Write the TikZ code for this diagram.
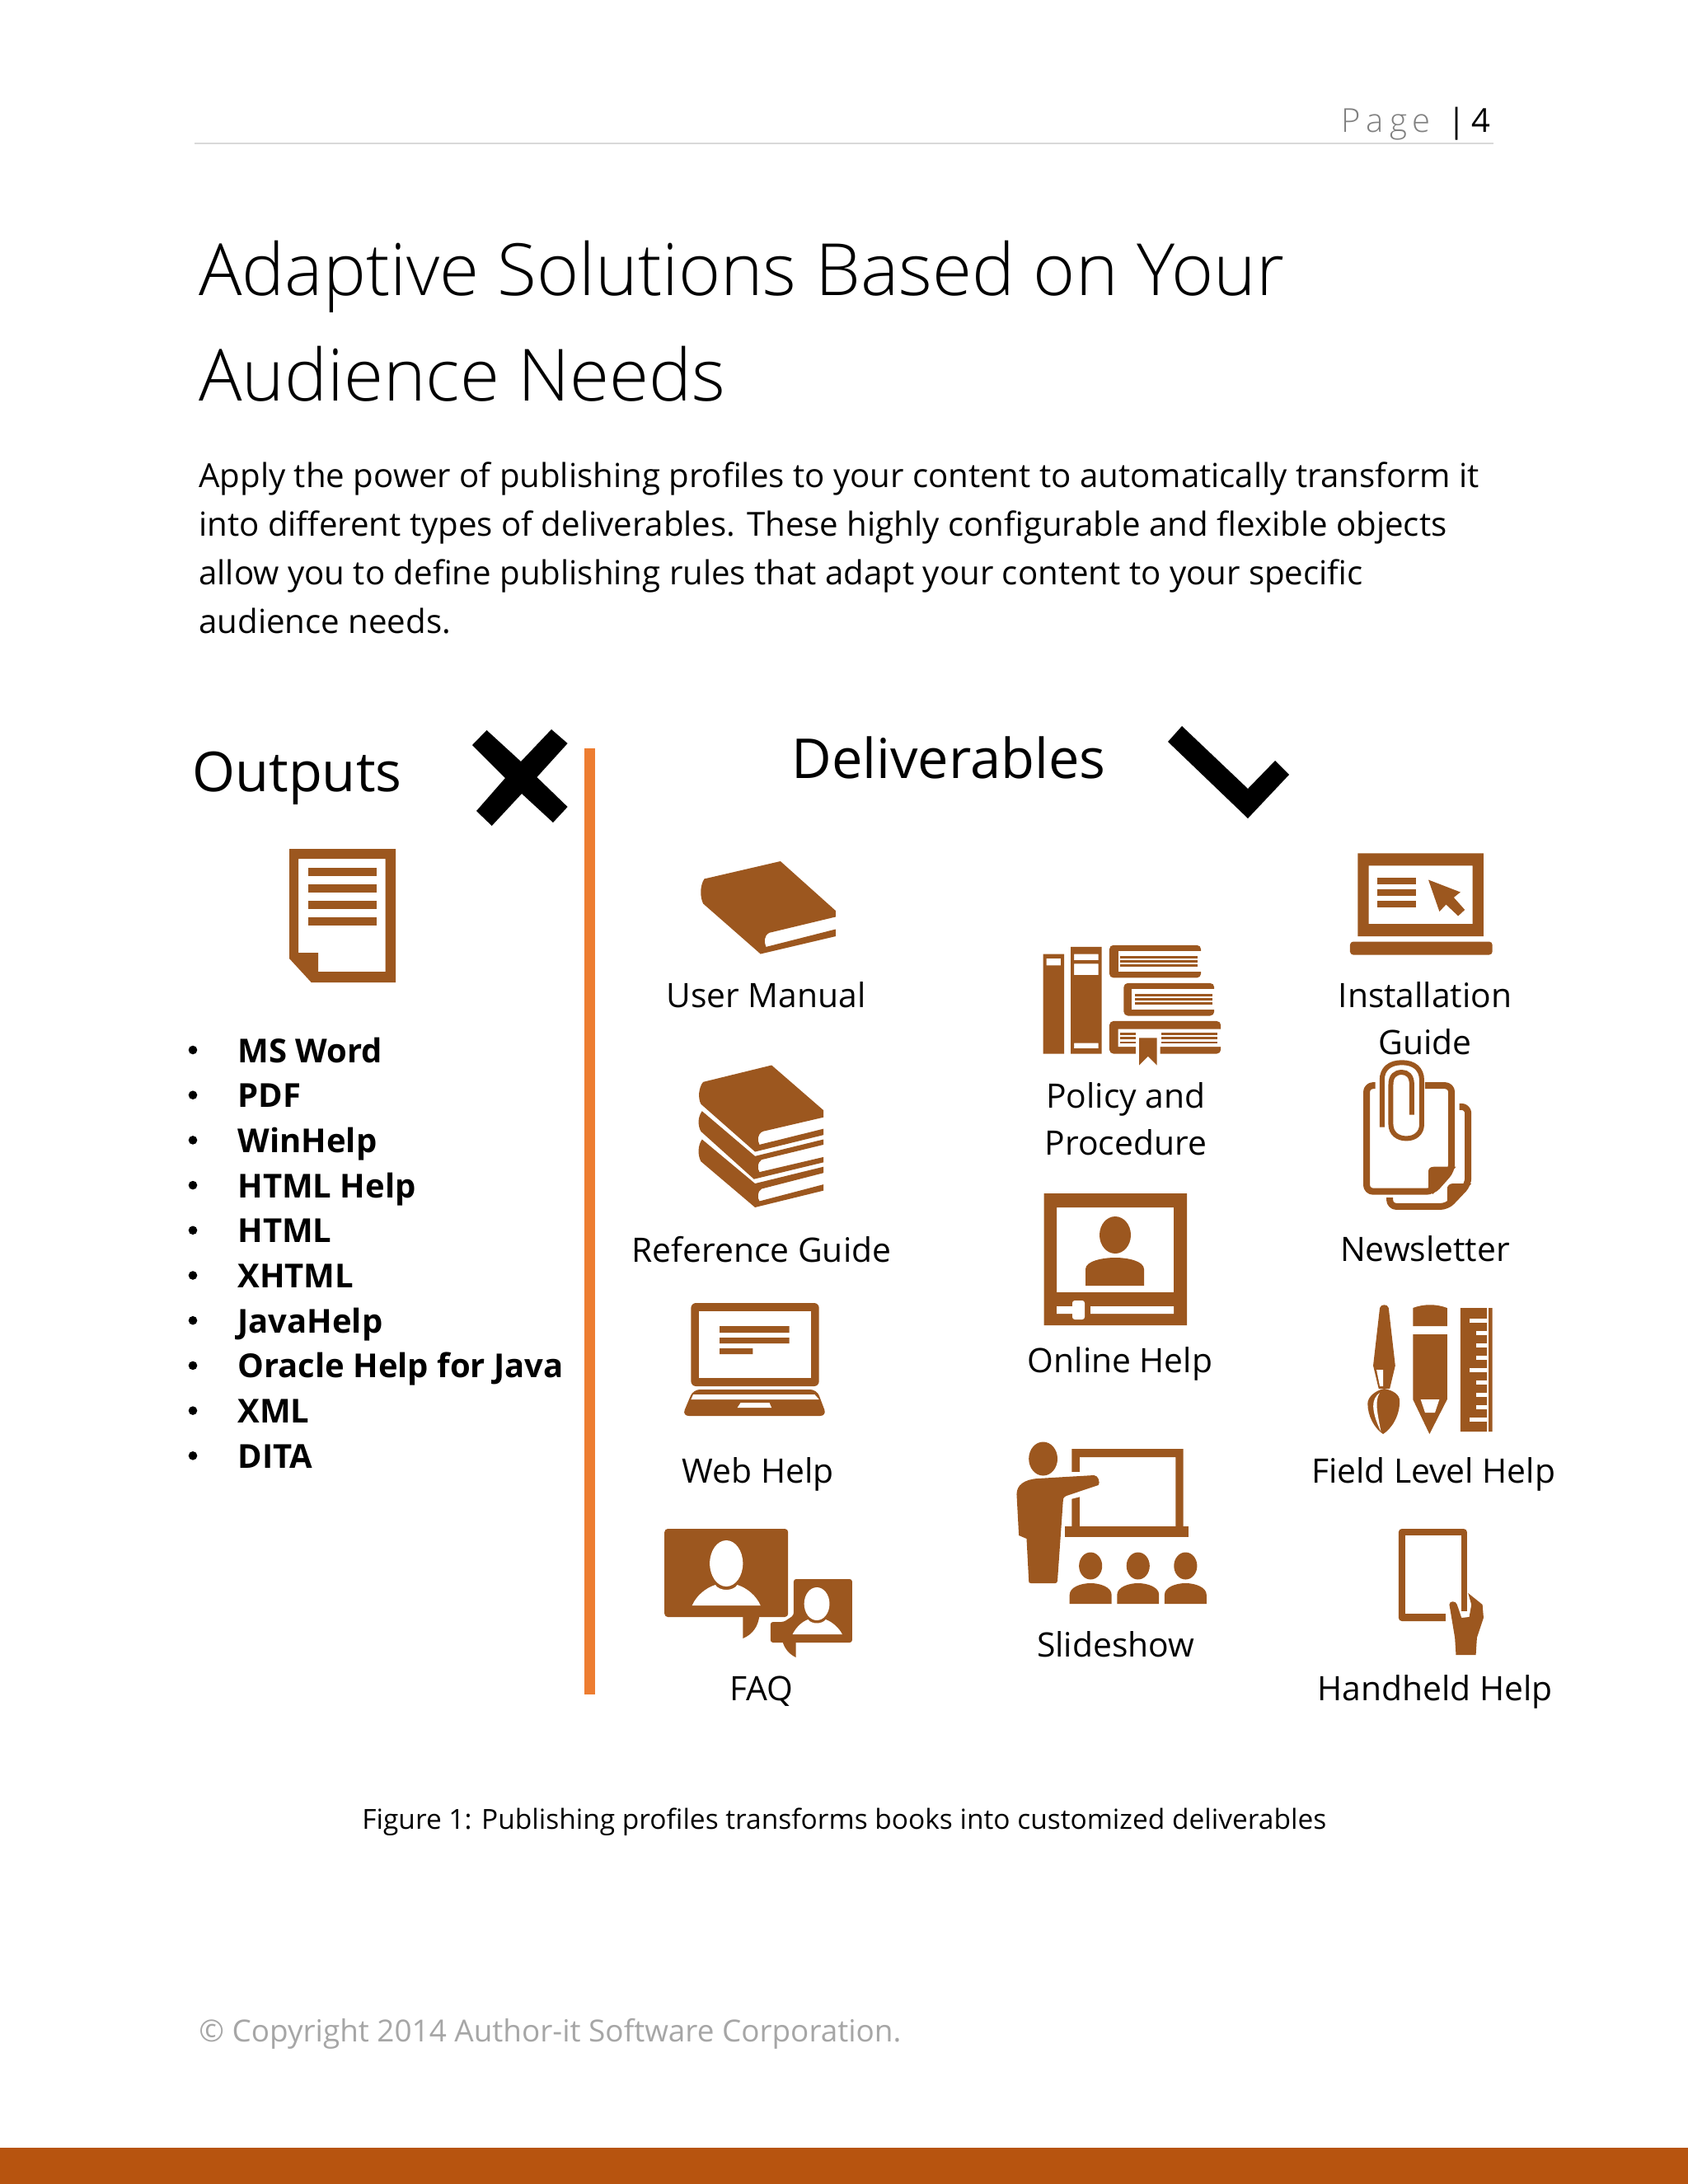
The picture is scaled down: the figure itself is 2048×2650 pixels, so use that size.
\documentclass[tikz,border=0pt]{standalone}
\usepackage{fontspec}
\setmainfont{Open Sans}
\newfontfamily\lightfont{Open Sans Light}
\definecolor{iconbrown}{HTML}{9C571F}
\definecolor{barorange}{HTML}{ED7D31}
\definecolor{footbar}{HTML}{B7540F}
\tikzset{
  icon/.style={fill=iconbrown,even odd rule},
  hole/.style={fill=white},
  iconline/.style={draw=iconbrown,line width=4pt,line join=round},
  lbl/.style={anchor=base,inner sep=0pt,font=\fontsize{20.4}{25}\selectfont},
  bodyline/.style={anchor=base west,inner sep=0pt,font=\fontsize{20.1}{25}\selectfont},
  titleline/.style={anchor=base west,inner sep=0pt,font=\lightfont\fontsize{43.7}{52}\selectfont},
  listitem/.style={anchor=base west,inner sep=0pt,font=\bfseries\fontsize{20}{25}\selectfont},
  topleft/.style={shift={(-254.5,-71.4)},xscale=1.3393,yscale=1.0714},
  topright/.style={shift={(-407.2,-71.4)},xscale=1.3393,yscale=1.0714},
  lowleft/.style={shift={(-254.5,0)},xscale=1.3393},
  lowright/.style={shift={(-407.2,0)},xscale=1.3393}
}
\begin{document}
\begin{tikzpicture}[x=0.5pt,y=0.5pt,yscale=-1,xscale=1]
	\useasboundingbox (0,0) rectangle (2048,2650);

	%Header
	\draw [line width=1pt,color=black!15] (236,174) -- (1812,174) ;
	% Text Node
	\node [anchor=base west,inner sep=0pt,text=black!50,font=\lightfont\fontsize{20}{24}\selectfont] (pageword) at (1627,160) {P\hspace{3.5pt}a\hspace{3.5pt}g\hspace{3.5pt}e};
	\node [anchor=base,inner sep=0pt,font=\fontsize{20}{24}\selectfont] (pagebar) at (1767,160) {|};
	\node [anchor=base west,inner sep=0pt,font=\fontsize{20}{24}\selectfont] (pagenum) at (1785,160) {4};

	% Title and text
	\node [titleline] (title1) at (241,358) {Adaptive Solutions Based on Your};
	\node [titleline] (title2) at (241,486) {Audience Needs};
	\node [bodyline] (body1) at (241,591) {Apply the power of publishing profiles to your content to automatically transform it};
	\node [bodyline] (body2) at (241,650) {into different types of deliverables. These highly configurable and flexible objects};
	\node [bodyline] (body3) at (241,709) {allow you to define publishing rules that adapt your content to your specific};
	\node [bodyline] (body4) at (241,768) {audience needs.};

	% Headings
	\node [anchor=base west,inner sep=0pt,font=\fontsize{33.4}{40}\selectfont] (outputs) at (233,960) {Outputs};
	\node [anchor=base west,inner sep=0pt,font=\fontsize{33.4}{40}\selectfont] (deliverables) at (960,944) {Deliverables};

	%Shape: cross
	\fill (590.5,886) -- (632,924) -- (669,885) -- (688.6,902) -- (651.4,943) -- (688.6,979) -- (671,998) -- (633,963) -- (596.7,1002) -- (578,984) -- (613,944) -- (573,904) -- cycle ;
	%Shape: check
	\fill (1434,881) -- (1514,957) -- (1547,923) -- (1564,940) -- (1514,993) -- (1417,900) -- cycle ;
	%Shape: divider
	\fill [barorange] (709,908) rectangle (721.7,2056) ;

	%Shape: document
	\fill [icon] (351,1030) -- (480,1030) -- (480,1192) -- (377.7,1192) -- (351,1163) -- cycle
		(362,1042) -- (467.6,1042) -- (467.6,1179) -- (386,1179) -- (386,1156) -- (362,1156) -- cycle ;
	\foreach \y in {1053,1073,1093,1113}
		\fill [iconbrown] (373.5,\y) rectangle (457,\y+10) ;

	% List
	\foreach \name/\txt [count=\i from 0] in {mw/MS Word,pdf/PDF,wh/WinHelp,hh/HTML Help,htm/HTML,xh/XHTML,jh/JavaHelp,oh/Oracle Help for Java,xm/XML,di/DITA}{
		\node [listitem] (\name) at (288,1289+54.7*\i) {\txt};
		\fill (234,1274+54.7*\i) circle (5.3) ;
	}

	\begin{scope}[topleft]
	%Shape: user manual
	\fill [icon] (897,1042) -- (947,1098) -- (947,1105) -- (887,1123) .. controls (882,1126) and (882,1134) .. (884,1139) -- (947,1119) -- (947,1127) -- (879,1147) -- (827,1090) .. controls (824,1082) and (824,1070) .. (828,1062) -- cycle ;
	%Shape: reference guide
	\fill [icon] (889,1273) -- (936,1324) -- (936,1332) -- (881,1348) .. controls (876,1351) and (876,1358) .. (878,1363) -- (936,1345) -- (936,1352) -- (874,1371) -- (825,1317) .. controls (822,1310) and (823,1298) .. (827,1292) -- cycle ;
	\fill [icon] (826,1325) -- (874,1376) -- (936,1357) -- (936,1363) -- (880,1380) .. controls (876,1383) and (876,1390) .. (878,1394) -- (936,1377) -- (936,1383) -- (873,1402) -- (825,1348) .. controls (822,1341) and (822,1332) .. (826,1325) -- cycle ;
	\fill [icon] (826,1357) -- (874,1407) -- (936,1388) -- (936,1395) -- (880,1413) .. controls (876,1416) and (876,1423) .. (878,1427) -- (936,1408) -- (936,1415) -- (874,1434) -- (825,1382) .. controls (822,1375) and (822,1364) .. (826,1357) -- cycle ;
	\end{scope}
	\node [lbl] (usermanual) at (929.5,1222) {User Manual};
	\node [lbl] (referenceguide) at (924,1531) {Reference Guide};

	\begin{scope}[topright]
	%Shape: policy books
	\fill [icon] (1249,1147) rectangle (1268,1260) (1252,1152) rectangle (1265,1160) ;
	\fill [icon] (1274,1139) rectangle (1302,1260) (1277,1147) rectangle (1299,1154) (1277,1158) rectangle (1299,1171) (1277,1248) rectangle (1299,1254) ;
	\fill [iconbrown,rounded corners=2.5] (1392,1137) -- (1309,1137) -- (1309,1174) -- (1392,1174) -- cycle ;
	\fill [hole] (1317,1144) rectangle (1393,1167) ;
	\foreach \y in {1149,1154,1159}
		\fill [iconbrown] (1319,\y) rectangle (1389,\y+2.7) ;
	\fill [iconbrown,rounded corners=2.5] (1404,1180) -- (1322,1180) -- (1322,1217) -- (1404,1217) -- cycle ;
	\fill [hole] (1329,1187) rectangle (1405,1210) ;
	\foreach \y in {1192,1197,1202}
		\fill [iconbrown] (1332,\y) rectangle (1402,\y+2.7) ;
	\fill [iconbrown,rounded corners=2.5] (1410,1223) -- (1309,1223) -- (1309,1260) -- (1410,1260) -- cycle ;
	\fill [hole] (1317,1232) rectangle (1411,1252) (1333,1232) rectangle (1355,1261) ;
	\foreach \y in {1236,1241,1246} {
		\fill [iconbrown] (1319,\y) rectangle (1333,\y+2.7) ;
		\fill [iconbrown] (1356,\y) rectangle (1407,\y+2.7) ;
	}
	\fill [iconbrown] (1336,1242) -- (1352,1242) -- (1352,1273) -- (1344,1263) -- (1336,1273) -- cycle ;
	%Shape: installation
	\fill [icon] (1534,1033) rectangle (1648,1127) (1544,1047) rectangle (1638,1113) ;
	\foreach \y in {1061,1074,1087}
		\fill [iconbrown] (1552,\y) rectangle (1587,\y+7) ;
	\fill [iconbrown] (1598,1063) -- (1627,1077) -- (1621,1083) -- (1631,1097) -- (1625,1104) -- (1614,1091) -- (1608,1099) -- cycle ;
	\fill [iconbrown,rounded corners=2] (1527,1133) -- (1656,1133) -- (1656,1148) -- (1527,1148) -- cycle ;
	%Shape: newsletter
	\draw [iconline,rounded corners=4] (1550,1296) -- (1542,1296) -- (1542,1416) -- (1602,1416) -- (1619,1392) -- (1619,1296) -- (1595,1296) ;
	\fill [iconbrown] (1598,1413) -- (1598,1393) .. controls (1598,1390) and (1600,1388) .. (1603,1388) -- (1623,1388) -- (1602,1419) -- cycle ;
	\draw [iconline,rounded corners=4] (1626,1320) -- (1634,1320) -- (1634,1408) -- (1615,1433) -- (1563,1433) -- (1563,1423) ;
	\fill [iconbrown] (1615,1434) -- (1615,1413) .. controls (1615,1410) and (1617,1407) .. (1620,1407) -- (1637,1407) -- cycle ;
	\draw [draw=iconbrown,line width=3pt] (1556,1343) -- (1556,1290) .. controls (1556,1277) and (1563,1270) .. (1574,1270) .. controls (1585,1270) and (1592,1277) .. (1592,1290) -- (1592,1340) .. controls (1592,1350) and (1586,1356) .. (1578,1356) .. controls (1570,1356) and (1564,1350) .. (1564,1340) -- (1564,1295) .. controls (1564,1285) and (1568,1281) .. (1574,1281) .. controls (1579,1281) and (1583,1285) .. (1583,1295) -- (1583,1329) ;
	\end{scope}
	\node [lbl] (policy1) at (1366,1344) {Policy and};
	\node [lbl] (policy2) at (1366,1401) {Procedure};
	\node [lbl] (install1) at (1729,1222) {Installation};
	\node [lbl] (install2) at (1729,1279) {Guide};
	\node [lbl] (newsletter) at (1729,1530) {Newsletter};

	%Shape: online help
	\fill [icon] (1266.5,1448) rectangle (1440,1608) (1282,1465) rectangle (1424,1568) ;
	\fill [hole] (1282,1585) rectangle (1301,1594) (1323,1585) rectangle (1424,1594) ;
	\fill [hole,rounded corners=1.5] (1301,1578) rectangle (1316,1601) ;
	\fill [iconbrown] (1353,1498.5) ellipse (19 and 22.5) ;
	\fill [iconbrown] (1317,1560) -- (1317,1540) .. controls (1317,1530) and (1338,1526) .. (1353,1526) .. controls (1368,1526) and (1388,1530) .. (1388,1540) -- (1388,1560) -- cycle ;
	\node [lbl] (onlinehelp) at (1359,1665) {Online Help};

	\begin{scope}[lowleft]
	%Shape: web help
	\fill [iconbrown,rounded corners=3] (816,1581) rectangle (932,1682) ;
	\fill [hole] (823,1591) rectangle (925,1672) ;
	\fill [iconbrown] (842,1609) rectangle (905,1617) (842,1623) rectangle (905,1630) (842,1636) rectangle (872,1643) ;
	\fill [iconbrown,rounded corners=4] (818,1686) -- (930,1686) -- (939,1718) -- (808,1718) -- cycle ;
	\fill [hole] (818,1692) -- (928,1692) -- (932,1698) -- (816,1698) -- cycle (861,1702) -- (887,1702) -- (889,1708) -- (858,1708) -- cycle ;
	%Shape: faq
	\fill [iconbrown,rounded corners=2] (792,1855) rectangle (904,1962) ;
	\fill [iconbrown] (863,1960) -- (863,1988) .. controls (872,1983) and (877,1973) .. (878,1960) -- cycle ;
	\fill [hole] (848,1897) ellipse (15 and 28) ;
	\fill [hole] (817,1948) .. controls (821,1936) and (829,1927) .. (838,1923) .. controls (842,1931) and (854,1931) .. (858,1923) .. controls (867,1927) and (875,1936) .. (879,1948) -- cycle ;
	\fill [iconbrown,rounded corners=1.5] (909,1916) -- (962,1916) -- (962,1993) -- (888,1993) -- (888,1968) -- (900,1968) -- (909,1960) -- cycle ;
	\fill [iconbrown] (899,1992) .. controls (901,2001) and (905,2007) .. (911,2011) -- (911,1992) -- cycle ;
	\fill [hole] (930,1946) ellipse (11.5 and 20) ;
	\fill [hole] (908,1983) .. controls (911,1975) and (916,1968) .. (922,1965) .. controls (925,1971) and (935,1971) .. (938,1965) .. controls (944,1968) and (950,1975) .. (953,1983) -- cycle ;
	%Shape: slideshow
	\fill [icon] (1161,1758) rectangle (1262,1852) (1168,1768) rectangle (1255,1852) ;
	\fill [iconbrown] (1155,1852) rectangle (1267,1865) ;
	\fill [hole] (1160,1786) -- (1169,1786) -- (1169,1816) -- (1160,1819) -- cycle ;
	\fill [iconbrown] (1135,1770) ellipse (13 and 20.5) ;
	\fill [iconbrown] (1181,1790) .. controls (1185,1790) and (1187,1799) .. (1185,1802) -- (1156,1815) .. controls (1153,1817) and (1153,1819) .. (1153,1822) -- (1148,1918) .. controls (1148,1920) and (1147,1921) .. (1146,1921) -- (1124,1921) .. controls (1122,1921) and (1122,1920) .. (1122,1918) -- (1120,1867) -- (1113,1863) -- (1111,1813) .. controls (1111,1802) and (1118,1795) .. (1130,1794) -- cycle ;
	\end{scope}
	\node [lbl] (webhelp) at (919.5,1799) {Web Help};
	\node [lbl] (faq) at (923.5,2063) {FAQ};
	\node [lbl] (slideshow) at (1353.7,2010) {Slideshow};

	\begin{scope}[lowright]
	%Shape: audience
	\foreach \x in {1292,1335,1378} {
		\fill [iconbrown] (\x,1900) ellipse (10.5 and 16.5) ;
		\fill [iconbrown] (\x-19,1946) -- (\x-19,1935) .. controls (\x-19,1926) and (\x-9,1921) .. (\x,1921) .. controls (\x+9,1921) and (\x+19,1926) .. (\x+19,1935) -- (\x+19,1946) -- cycle ;
	}
	%Shape: field level help
	\fill [iconbrown] (1554,1587) .. controls (1555,1582) and (1561,1582) .. (1562,1587) -- (1568,1657) -- (1563,1685) -- (1553,1685) -- (1548,1657) -- cycle ;
	\fill [hole] (1551,1662) -- (1557,1662) -- (1557,1682) -- (1554,1682) -- cycle ;
	\fill [iconbrown] (1558,1685) .. controls (1566,1687) and (1572,1692) .. (1572,1700) .. controls (1572,1718) and (1565,1733) .. (1557,1740) .. controls (1549,1733) and (1543,1718) .. (1543,1703) .. controls (1543,1695) and (1550,1687) .. (1558,1685) -- cycle ;
	\fill [hole] (1554,1690) .. controls (1546,1697) and (1546,1712) .. (1555,1737) .. controls (1552,1715) and (1549,1700) .. (1554,1690) -- cycle ;
	\fill [iconbrown] (1584,1587) .. controls (1594,1582) and (1605,1582) .. (1615,1587) -- (1615,1609) -- (1584,1609) -- cycle ;
	\fill [iconbrown] (1584,1619) -- (1615,1619) -- (1615,1698) -- (1599,1740) -- (1584,1698) -- cycle ;
	\fill [hole] (1591,1698) -- (1608,1698) -- (1604,1714) -- (1595,1714) -- cycle ;
	\fill [iconbrown] (1627,1587) rectangle (1651,1737) (1652.5,1587) rectangle (1656,1737) ;
	\foreach \k/\xs in {0/1635,1/1641,2/1641,3/1641,4/1635,5/1641,6/1641,7/1641,8/1635}
		\fill [hole] (\xs,1600+15*\k) rectangle (1651,1605+15*\k) ;
	%Shape: handheld help
	\fill [iconbrown,rounded corners=2] (1571,1855) rectangle (1633,1967) ;
	\fill [hole] (1577,1863) rectangle (1628,1958) ;
	\fill [hole] (1614,1940) rectangle (1633,1970) ;
	\fill [iconbrown] (1628,1900) rectangle (1633,1955) ;
	\fill [iconbrown] (1617,1947) .. controls (1617,1942) and (1623,1942) .. (1624,1947) -- (1628,1963) -- (1635,1962) -- (1637,1947) -- (1634,1933) -- (1647,1947) -- (1648,1963) -- (1642,1987) -- (1641,2008) -- (1623,2008) -- (1622,1987) -- cycle ;
	\end{scope}
	\node [lbl] (fieldlevel) at (1739,1799) {Field Level Help};
	\node [lbl] (handheld) at (1741,2063) {Handheld Help};

	% Caption and footer
	\node [anchor=base west,inner sep=0pt,font=\fontsize{16.74}{20}\selectfont] (caption) at (439,2219) {Figure 1: Publishing profiles transforms books into customized deliverables};
	\node [anchor=base west,inner sep=0pt,text=black!35,font=\fontsize{18.44}{22}\selectfont] (copyright) at (241,2477) {© Copyright 2014 Author-it Software Corporation.};
	\fill [footbar] (0,2606) rectangle (2048,2650) ;
\end{tikzpicture}
\end{document}
